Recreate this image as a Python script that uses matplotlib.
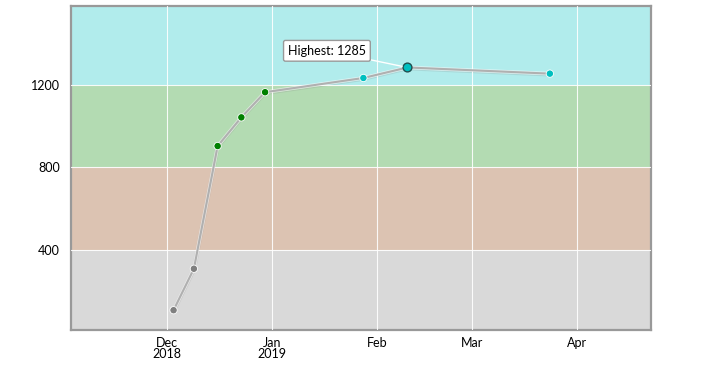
import matplotlib
matplotlib.use("Agg")
import matplotlib.pyplot as plt
import matplotlib.dates as mdates
import numpy as np
import pandas as pd

plt.rcParams['font.family'] = ['Lato', 'DejaVu Sans']

# data
dates = pd.to_datetime(["2018-12-03", "2018-12-09", "2018-12-16", "2018-12-23",
                        "2018-12-30", "2019-01-28", "2019-02-10", "2019-03-24"])
values = [108, 309, 904, 1043, 1165, 1234, 1285, 1255]

band_edges = [0, 400, 800, 1200, 2000]
band_colors = ["#d9d9d9", "#dcc3b2", "#b3dbb2", "#b1ecec"]
point_colors = ["#7f7f7f", "#c8a080", "#008000", "#00bfbf"]

yticks = [400, 800, 1200]
xtick_dates = pd.to_datetime(["2018-12-01", "2019-01-01", "2019-02-01", "2019-03-01", "2019-04-01"])
xtick_labels = ["Dec\n2018", "Jan\n2019", "Feb", "Mar", "Apr"]

fig = plt.figure(figsize=(7.02, 3.69), dpi=100)
ax = fig.add_axes([71 / 702, 1 - 330 / 369, 580 / 702, 324 / 369])

xmin = pd.Timestamp("2018-11-02 18:00")
xmax = pd.Timestamp("2019-04-22 20:00")
ymin, ymax = 12, 1583
ax.set_xlim(xmin, xmax)
ax.set_ylim(ymin, ymax)

for lo, hi, c in zip(band_edges[:-1], band_edges[1:], band_colors):
    ax.axhspan(lo, hi, color=c, zorder=0, lw=0)

ax.set_yticks(yticks)
ax.set_xticks(xtick_dates)
ax.set_xticklabels(xtick_labels, fontsize=9, linespacing=0.95)
ax.tick_params(axis='y', labelsize=9)
ax.tick_params(length=0, pad=8)
ax.tick_params(axis='x', pad=5)
ax.grid(True, color="white", lw=0.8, alpha=0.9, zorder=1)
ax.set_axisbelow(False)

# line with soft shadow
x = mdates.date2num(dates)
ax.plot(x, np.array(values) - 4, color="#888888", lw=3, alpha=0.2, zorder=2)
ax.plot(x, values, color="#ffffff", lw=2.6, zorder=3, alpha=0.6)
ax.plot(x, values, color="#b0b0b0", lw=1.5, zorder=4)

colors = []
for v in values:
    idx = np.searchsorted(band_edges, v, side='right') - 1
    colors.append(point_colors[idx])
ax.scatter(x, values, s=28, c=colors, edgecolors="white", linewidths=0.6, zorder=5)

# highest marker
imax = int(np.argmax(values))
ax.scatter([x[imax]], [values[imax]], s=40, c=[colors[imax]], edgecolors="#1f4f4f",
           linewidths=1.0, zorder=6)

ax.annotate(f"Highest: {values[imax]}", xy=(x[imax], values[imax]),
            xytext=(-58, 12), textcoords="offset points", ha="center", va="center",
            fontsize=9,
            bbox=dict(boxstyle="round,pad=0.35,rounding_size=0.15", fc="white",
                      ec="#999999", lw=1),
            arrowprops=dict(arrowstyle="-", color="white", lw=1, shrinkA=0, shrinkB=4),
            zorder=7)

for s in ax.spines.values():
    s.set_color("#999999")
    s.set_linewidth(1.6)

fig.savefig("out.png", dpi=100)
